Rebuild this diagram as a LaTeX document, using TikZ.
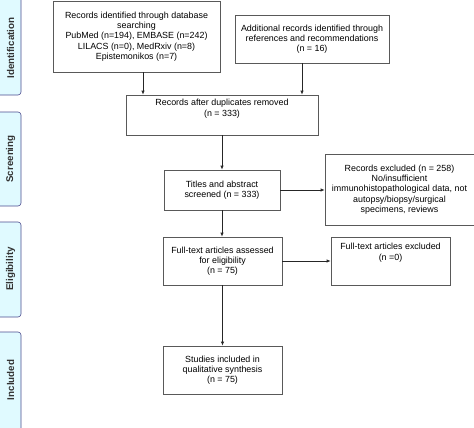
\documentclass[tikz,border=0pt]{standalone}
\usepackage{fontspec}
\setmainfont{Liberation Sans}
\usetikzlibrary{arrows.meta}
\begin{document}
\begin{tikzpicture}[x=1pt,y=-1pt,
  box/.style={draw=black!65,line width=0.7pt,fill=white,inner sep=0pt,align=center,font=\fontsize{8.9}{10.3}\selectfont},
  phase/.style={draw=black!35!blue!40!gray,fill=blue!15!cyan!12,rounded corners=3pt,line width=0.6pt},
  phasetext/.style={rotate=90,font=\bfseries\fontsize{9.8}{11}\selectfont,text=black!80},
  arr/.style={-{Latex[length=4pt,width=3.5pt]},line width=0.7pt,black!85}]
\useasboundingbox (0,0) rectangle (474,428);
\begin{scope}
\clip (0,0) rectangle (474,428);
\draw[phase] (-6,-6) rectangle (21,95);
\draw[phase] (-6,112) rectangle (21,206);
\draw[phase] (-6,222) rectangle (21,317);
\draw[phase] (-6,332) rectangle (21,434);
\end{scope}
\node[phasetext] (pI) at (10.5,48) {Identification};
\node[phasetext] (pS) at (10.5,159) {Screening};
\node[phasetext] (pE) at (10.5,269) {Eligibility};
\node[phasetext] (pN) at (10.5,380) {Included};

\node[box,minimum width=167pt,minimum height=71pt] (b1) at (136.5,36.5) {Records identified through database\\searching\\PubMed (n=194), EMBASE (n=242)\\LILACS (n=0), MedRxiv (n=8)\\Epistemonikos (n=7)};
\node[box,minimum width=154pt,minimum height=48pt] (b2) at (312,39) {Additional records identified through\\references and recommendations\\(n = 16)};
\node[box,minimum width=192pt,minimum height=40pt,text depth=0pt] (b3) at (222,115) {};
\node[box,anchor=north,draw=none,fill=none] (b3t) at (222,99) {Records after duplicates removed\\(n = 333)};
\node[box,minimum width=116pt,minimum height=40pt] (b4) at (222,190) {Titles and abstract\\screened (n = 333)};
\node[box,minimum width=149pt,minimum height=71pt] (b5) at (399.5,189.5) {Records excluded (n = 258)\\No/insufficient\\immunohistopathological data, not\\autopsy/biopsy/surgical\\specimens, reviews};
\node[box,minimum width=119pt,minimum height=48pt] (b6) at (222.5,261) {Full-text articles assessed\\for eligibility\\(n = 75)};
\node[box,minimum width=119pt,minimum height=48pt] (b7) at (390.5,261) {};
\node[box,anchor=north,draw=none,fill=none] (b7t) at (390.5,243) {Full-text articles excluded\\(n =0)};
\node[box,minimum width=119pt,minimum height=48pt] (b8) at (222.5,370) {Studies included in\\qualitative synthesis\\(n = 75)};

\draw[arr] (b1.south -| 143,0) -- (b3.north -| 143,0);
\draw[arr] (b2.south -| 302,0) -- (b3.north -| 302,0);
\draw[arr] (b3.south -| b4.north) -- (b4.north);
\draw[arr] (b4.east) -- (b5.west |- b4.east);
\draw[arr] (b4.south) -- (b6.north -| b4.south);
\draw[arr] (b6.east) -- (b7.west |- b6.east);
\draw[arr] (b6.south -| b8.north) -- (b8.north);
\end{tikzpicture}
\end{document}
